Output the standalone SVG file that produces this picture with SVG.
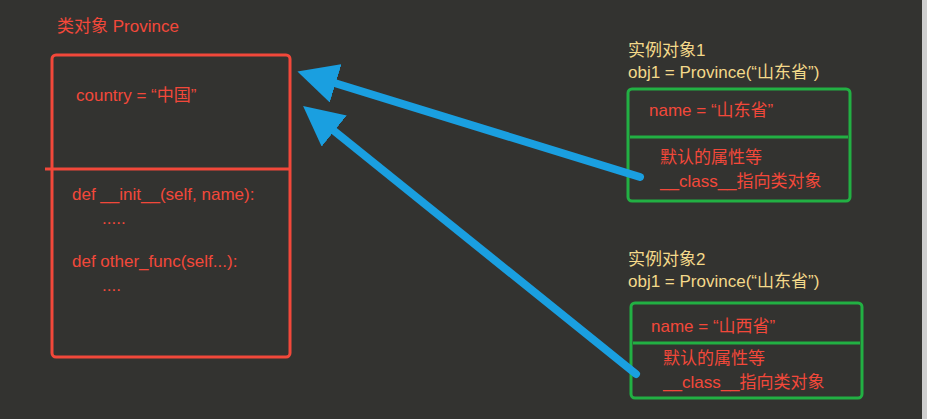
<svg xmlns="http://www.w3.org/2000/svg" width="927" height="419" viewBox="0 0 927 419">
<defs>
<style>
text{font-family:"Liberation Sans","Noto Sans CJK SC",sans-serif;font-size:17px}
.r{fill:#f2483a}.y{fill:#f3d98a}
.rb{fill:none;stroke:#f2483a;stroke-width:3}
.gb{fill:none;stroke:#22b043;stroke-width:3}
.ar{stroke:#1a9fe0;stroke-width:8;stroke-linecap:round;fill:none}
</style>
<marker id="ah" viewBox="0 0 10 10" refX="2" refY="5" markerWidth="5" markerHeight="5" orient="auto" markerUnits="strokeWidth">
<path d="M0,0 L10,5 L0,10 Z" fill="#1a9fe0"/>
</marker>
</defs>
<rect width="927" height="419" fill="#333330"/>
<rect x="922" y="0" width="5" height="419" fill="#cfcfcf"/>
<g id="class">
<text x="57" y="32" class="r">类对象 Province</text>
<rect x="52" y="55" width="238" height="302" rx="4" class="rb"/>
<line x1="45" y1="169" x2="290" y2="169" class="rb"/>
<text x="76" y="101" class="r">country = “中国”</text>
<text x="72" y="200" class="r">def __init__(self, name):</text>
<text x="102" y="224" class="r">.....</text>
<text x="72" y="267" class="r">def other_func(self...):</text>
<text x="102" y="291" class="r">....</text>
</g>
<g id="obj1">
<text x="628" y="56" class="y">实例对象1</text>
<text x="628" y="78" class="y">obj1 = Province(“山东省”)</text>
<rect x="628" y="89" width="222" height="112" rx="4" class="gb"/>
<line x1="630" y1="137" x2="848" y2="137" class="gb"/>
<text x="649" y="116" class="r">name = “山东省”</text>
<text x="660" y="163" class="r">默认的属性等</text>
<text x="660" y="187" class="r">__class__指向类对象</text>
</g>
<g id="obj2">
<text x="628" y="265" class="y">实例对象2</text>
<text x="628" y="287" class="y">obj1 = Province(“山东省”)</text>
<rect x="631" y="303" width="231" height="95" rx="4" class="gb"/>
<line x1="633" y1="343" x2="860" y2="343" class="gb"/>
<text x="651" y="332" class="r">name = “山西省”</text>
<text x="663" y="364" class="r">默认的属性等</text>
<text x="663" y="388" class="r">__class__指向类对象</text>
</g>
<g id="connectors">
<line x1="640" y1="177" x2="328" y2="81" class="ar" marker-end="url(#ah)"/>
<line x1="636" y1="374" x2="328" y2="126" class="ar" marker-end="url(#ah)"/>
</g>
</svg>
